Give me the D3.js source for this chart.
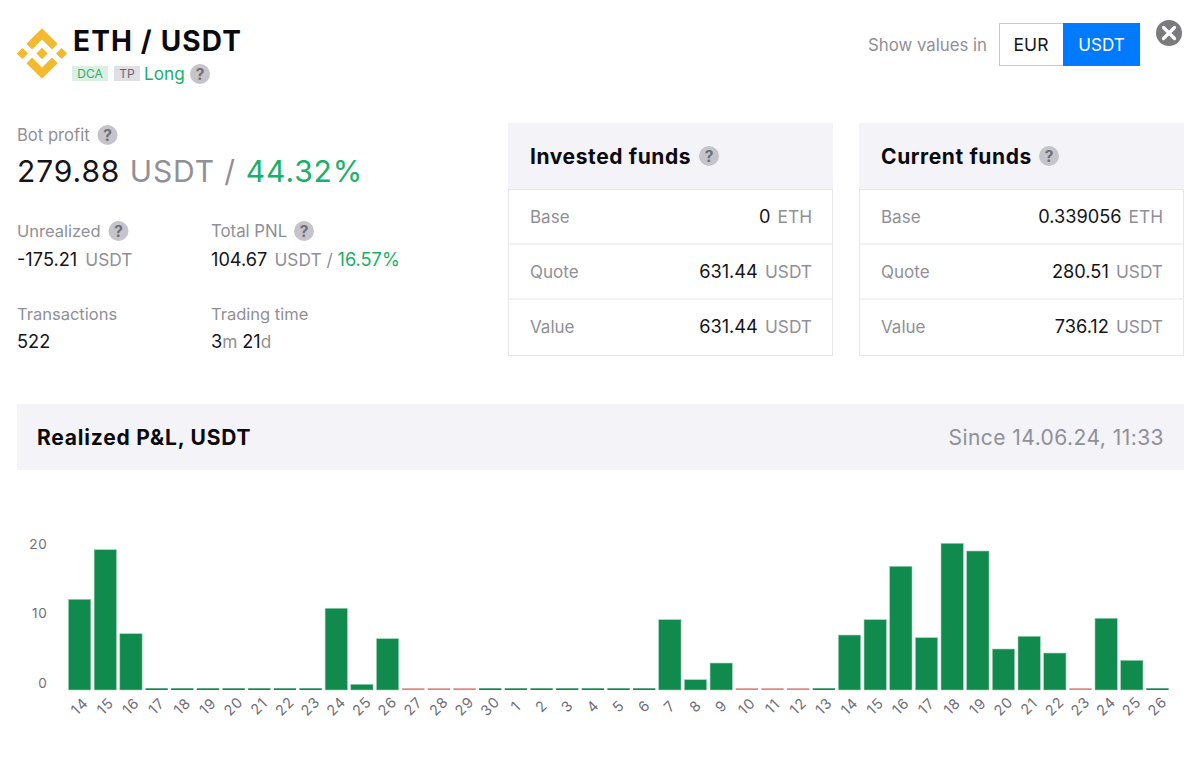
<!DOCTYPE html>
<html><head><meta charset="utf-8">
<script src="https://cdnjs.cloudflare.com/ajax/libs/d3/7.8.5/d3.min.js"></script>
<style>html,body{margin:0;padding:0;background:#fff}svg{display:block}text{font-family:Inter,"Noto Sans",sans-serif}</style>
</head><body><svg id="c" width="1200" height="763"></svg>
<script>
const days = ["14","15","16","17","18","19","20","21","22","23","24","25","26","27","28","29","30","1","2","3","4","5","6","7","8","9","10","11","12","13","14","15","16","17","18","19","20","21","22","23","24","25","26"];
const pnl = [13.05,20.19,8.1,0.1,0.1,0.1,0.1,0.1,0.1,0.1,11.76,0.82,7.38,-0.1,-0.1,-0.1,0.1,0.1,0.1,0.1,0.1,0.1,0.1,10.12,1.48,3.88,-0.1,-0.1,-0.1,0.1,7.91,10.12,17.8,7.53,21.1,20,5.9,7.73,5.32,-0.1,10.32,4.27,0.1];
const yTicks = [0,10,20];
const fundRows = ["Base","Quote","Value"];
const investedVals = ["0","631.44","631.44"], investedUnits = ["ETH","USDT","USDT"];
const currentVals = ["0.339056","280.51","736.12"], currentUnits = ["ETH","USDT","USDT"];

const svg = d3.select("#c");
const ink="#14141a", grey="#909096", green="#17b169";
const N=18.2, U=17.3;
function T(x,y,s,size,fill,o={}){return svg.append("text").attr("x",x).attr("y",y).attr("font-size",size).attr("fill",fill)
  .attr("font-weight",o.w||400).attr("text-anchor",o.a||"start").attr("letter-spacing",o.ls||null).text(s);}
function runs(x,y,parts,o={}){const t=svg.append("text").attr("x",x).attr("y",y).attr("text-anchor",o.a||"start").attr("letter-spacing",o.ls||null).attr("xml:space","preserve");
  parts.forEach(p=>t.append("tspan").attr("fill",p[1]).attr("font-size",p[2]).attr("dx",p[3]||null).text(p[0]));return t;}
function Q(cx,cy,r=10){svg.append("circle").attr("cx",cx).attr("cy",cy).attr("r",r).attr("fill","#c4c4ca");
  T(cx,cy+5.5,"?",15.5,"#6f6f76",{a:"middle",w:700});}
function R(x,y,w,h,f,s){return svg.append("rect").attr("x",x).attr("y",y).attr("width",w).attr("height",h).attr("fill",f).attr("stroke",s||"none");}

// logo
const lg=svg.append("g").attr("transform","translate(42,53.5)").attr("fill","#f3ba2f");
[[0,0,5.7],[-19.6,0,5.6],[19.6,0,5.6]].forEach(d=>lg.append("path").attr("d",`M${d[0]-d[2]},${d[1]}L${d[0]},${d[1]-d[2]}L${d[0]+d[2]},${d[1]}L${d[0]},${d[1]+d[2]}Z`));
lg.append("path").attr("d","M0,-25.3L15.6,-9.7L10,-4.1L0,-14.1L-10,-4.1L-15.6,-9.7Z");
lg.append("path").attr("d","M0,25.3L15.6,9.7L10,4.1L0,14.1L-10,4.1L-15.6,9.7Z");

T(73,51,"ETH / USDT",28,"#0a0a0f",{w:700,ls:"1.15px"});
R(72,66,36,15,"#d9f0e3"); T(90,78,"DCA",12,"#35a96f",{a:"middle"});
R(114,66,26,15,"#dfdfe4"); T(127,78,"TP",12,"#66666e",{a:"middle"});
T(144,80,"Long",17.2,green); Q(200,74);

T(17,141,"Bot profit",16.6,grey); Q(107.5,135);
runs(17,182,[["279.88 ",ink,30],["USDT / ",grey,30],["44.32%",green,30,0.5]],{ls:"0.9px"});

T(17,237,"Unrealized",16.5,grey); Q(118.5,231);
runs(17,266,[["-175.21 ",ink,N],["USDT",grey,U,3]]);
T(211,237,"Total PNL",16.8,grey); Q(304,231);
runs(211,266,[["104.67 ",ink,N],["USDT / ",grey,U,2],["16.57%",green,N]]);
T(17,320,"Transactions",16.5,grey); T(17,348,"522",N,ink);
T(211,320,"Trading time",16.5,grey);
runs(211,348,[["3",ink,N],["m ",grey,U],["21",ink,N],["d",grey,U]]);

// toggle
T(868,51,"Show values in",16.8,grey);
R(999.5,23.5,64,42,"#fff","#c9c9ce"); T(1031,51,"EUR",17.5,ink,{a:"middle"});
R(1063,23,77,43,"#007bff"); T(1101.5,51,"USDT",17,"#fff",{a:"middle"});
svg.append("circle").attr("cx",1169).attr("cy",33).attr("r",13).attr("fill","#7b7b7f");
svg.append("path").attr("d","M1163.5,27.5L1174.5,38.5M1174.5,27.5L1163.5,38.5").attr("stroke","#fff").attr("stroke-width",3.2).attr("stroke-linecap","round");

// cards
function card(x,title,qx,vals,units){
  const w=325;
  R(x,123,w,66,"#f3f3f8");
  R(x+.5,189.5,w-1,166,"#fff","#e6e6ec");
  T(x+22,164,title,21,"#0a0a0f",{w:700,ls:"0.6px"});
  Q(qx,156);
  fundRows.forEach((r,i)=>{const y=217+55*i;
    if(i)svg.append("line").attr("x1",x).attr("x2",x+w).attr("y1",y-28).attr("y2",y-28).attr("stroke","#e6e6ec");
    T(x+22,y+6,r,17,grey);
    runs(x+w-21,y+6,[[vals[i]+" ",ink,N],[units[i],grey,U,2]],{a:"end"});
  });
}
card(508,"Invested funds",709,investedVals,investedUnits);
card(859,"Current funds",1049,currentVals,currentUnits);

R(17,404,1167,66,"#f3f3f8");
T(37,445,"Realized P&L, USDT",21,"#0a0a0f",{w:700,ls:"0.8px"});
T(1164,445,"Since 14.06.24, 11:33",21,grey,{a:"end",ls:"0.45px"});

// chart
const x=d3.scaleBand().domain(days.map((d,i)=>i)).range([66.8,1170.3]).paddingInner(0.13).paddingOuter(0.065);
const y=d3.scaleLinear().domain([0,20]).range([690,551]);
const bars=svg.append("g");
const minH=1.7;
bars.selectAll("rect").data(pnl).join("rect")
  .attr("x",(d,i)=>x(i)).attr("width",x.bandwidth())
  .attr("y",d=>Math.min(y(Math.abs(d)),690-minH))
  .attr("height",d=>Math.max(690-y(Math.abs(d)),minH))
  .attr("fill",d=>d<0?"#e2837f":"#118b4d")
  .attr("stroke",d=>Math.abs(d)<0.5?"none":"#9fd2b6").attr("stroke-width",0.6);
// y axis
const ya=svg.append("g").attr("transform","translate(47.5,-7.5)").call(d3.axisLeft(y).tickValues(yTicks).tickSize(0).tickPadding(0));
ya.select(".domain").remove();
ya.selectAll("text").attr("font-size",13.5).attr("fill","#6f6f78").attr("font-family","'Open Sans'").attr("letter-spacing","0.8px").attr("dy","0.36em");
// x axis
const xa=svg.append("g").attr("transform","translate(0.7,690)").call(d3.axisBottom(x).tickFormat(i=>days[i]).tickSize(0).tickPadding(0));
xa.select(".domain").remove();
xa.selectAll("text").attr("font-size",14.5).attr("fill","#6f6f78").attr("font-family","'Open Sans'").attr("letter-spacing","1px")
  .attr("text-anchor","middle").attr("dy",null).attr("y",0)
  .attr("transform","translate(0,17) rotate(-45)").attr("dominant-baseline","middle");
</script></body></html>
